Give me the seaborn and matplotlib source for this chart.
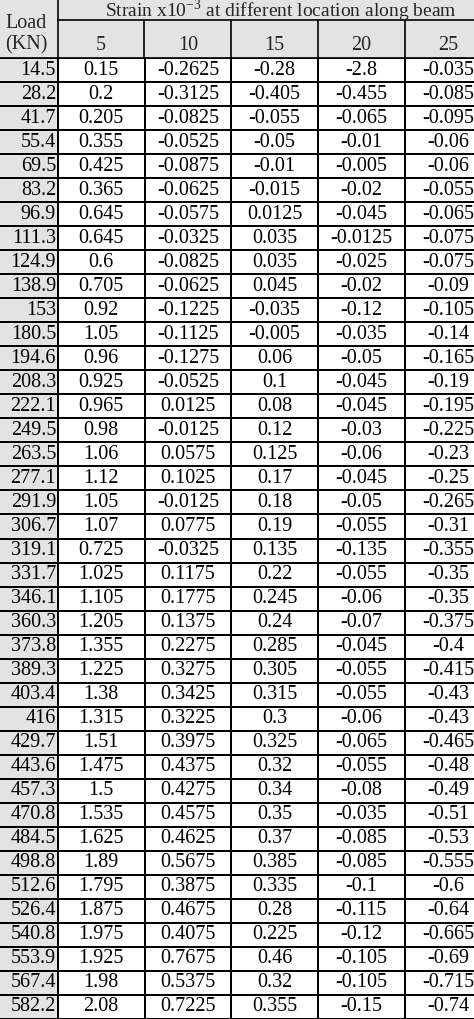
import numpy as np
import pandas as pd
import matplotlib
matplotlib.use("Agg")
import matplotlib.pyplot as plt
from matplotlib.colors import ListedColormap
import seaborn as sns

# table values
loads = ["14.5", "28.2", "41.7", "55.4", "69.5", "83.2", "96.9", "111.3", "124.9", "138.9",
         "153", "180.5", "194.6", "208.3", "222.1", "249.5", "263.5", "277.1", "291.9", "306.7",
         "319.1", "331.7", "346.1", "360.3", "373.8", "389.3", "403.4", "416", "429.7", "443.6",
         "457.3", "470.8", "484.5", "498.8", "512.6", "526.4", "540.8", "553.9", "567.4", "582.2"]
locations = ["5", "10", "15", "20", "25"]
s5 = ["0.15", "0.2", "0.205", "0.355", "0.425", "0.365", "0.645", "0.645", "0.6", "0.705",
      "0.92", "1.05", "0.96", "0.925", "0.965", "0.98", "1.06", "1.12", "1.05", "1.07",
      "0.725", "1.025", "1.105", "1.205", "1.355", "1.225", "1.38", "1.315", "1.51", "1.475",
      "1.5", "1.535", "1.625", "1.89", "1.795", "1.875", "1.975", "1.925", "1.98", "2.08"]
s10 = ["-0.2625", "-0.3125", "-0.0825", "-0.0525", "-0.0875", "-0.0625", "-0.0575", "-0.0325", "-0.0825", "-0.0625",
       "-0.1225", "-0.1125", "-0.1275", "-0.0525", "0.0125", "-0.0125", "0.0575", "0.1025", "-0.0125", "0.0775",
       "-0.0325", "0.1175", "0.1775", "0.1375", "0.2275", "0.3275", "0.3425", "0.3225", "0.3975", "0.4375",
       "0.4275", "0.4575", "0.4625", "0.5675", "0.3875", "0.4675", "0.4075", "0.7675", "0.5375", "0.7225"]
s15 = ["-0.28", "-0.405", "-0.055", "-0.05", "-0.01", "-0.015", "0.0125", "0.035", "0.035", "0.045",
       "-0.035", "-0.005", "0.06", "0.1", "0.08", "0.12", "0.125", "0.17", "0.18", "0.19",
       "0.135", "0.22", "0.245", "0.24", "0.285", "0.305", "0.315", "0.3", "0.325", "0.32",
       "0.34", "0.35", "0.37", "0.385", "0.335", "0.28", "0.225", "0.46", "0.32", "0.355"]
s20 = ["-2.8", "-0.455", "-0.065", "-0.01", "-0.005", "-0.02", "-0.045", "-0.0125", "-0.025", "-0.02",
       "-0.12", "-0.035", "-0.05", "-0.045", "-0.045", "-0.03", "-0.06", "-0.045", "-0.05", "-0.055",
       "-0.135", "-0.055", "-0.06", "-0.07", "-0.045", "-0.055", "-0.055", "-0.06", "-0.065", "-0.055",
       "-0.08", "-0.035", "-0.085", "-0.085", "-0.1", "-0.115", "-0.12", "-0.105", "-0.105", "-0.15"]
s25 = ["-0.035", "-0.085", "-0.095", "-0.06", "-0.06", "-0.055", "-0.065", "-0.075", "-0.075", "-0.09",
       "-0.105", "-0.14", "-0.165", "-0.19", "-0.195", "-0.225", "-0.23", "-0.25", "-0.265", "-0.31",
       "-0.355", "-0.35", "-0.35", "-0.375", "-0.4", "-0.415", "-0.43", "-0.43", "-0.465", "-0.48",
       "-0.49", "-0.51", "-0.53", "-0.555", "-0.6", "-0.64", "-0.665", "-0.69", "-0.715", "-0.74"]

labels = np.array([loads, s5, s10, s15, s20, s25]).T
shade = np.zeros(labels.shape)
shade[:, 0] = 1  # load column is shaded
df = pd.DataFrame(shade, columns=["Load"] + locations)

W, H = 474, 1019
head = 58
colw = 86.75
left = -29
fs = 14.5

sns.set_theme(style="white")
plt.rcParams["font.family"] = ["Liberation Serif", "DejaVu Serif"]
plt.rcParams["mathtext.fontset"] = "custom"
plt.rcParams["mathtext.rm"] = "Liberation Serif"

fig = plt.figure(figsize=(W / 100, H / 100), dpi=100)
nrows = len(loads)
ax = fig.add_axes([left / W, 0, 6 * colw / W, (H - head) / H])
sns.heatmap(df, ax=ax, cmap=ListedColormap(["white", "#e3e3e3"]), cbar=False,
            annot=labels, fmt="", linewidths=1.2, linecolor="black",
            annot_kws={"fontsize": fs, "color": "black"})
ax.set_xticks([])
ax.set_yticks([])
ax.set_xlabel("")
ax.set_ylabel("")
for t in ax.texts:
    x, y = t.get_position()
    if x < 1:
        t.set_ha("right")
        t.set_x(0.98)

# header block
hx = fig.add_axes([0, 1 - head / H, 1, head / H])
hx.set_xlim(0, W)
hx.set_ylim(head, 0)
hx.axis("off")
hx.add_patch(plt.Rectangle((0, 0), W, head, color="#e3e3e3", zorder=0))
hx.plot([left + colw, left + colw], [0, head], color="black", lw=1.2)
hx.plot([left + colw, W], [20, 20], color="black", lw=1.2)
hx.plot([0, W], [head, head], color="black", lw=1.2)
for i in range(1, 6):
    x = left + colw * (i + 1)
    if x < W:
        hx.plot([x, x], [20, head], color="black", lw=1.2)
    hx.text(left + colw * (i + 0.5), 45, locations[i - 1], ha="center", va="center", fontsize=fs)
hx.text(26, 24, "Load", ha="center", va="center", fontsize=fs)
hx.text(26, 45, "(KN)", ha="center", va="center", fontsize=fs)
hx.text(281, 11, r"Strain x10$^{\mathregular{-3}}$ at different location along beam",
        ha="center", va="center", fontsize=fs - 0.5)

fig.savefig("out.png", dpi=100)
